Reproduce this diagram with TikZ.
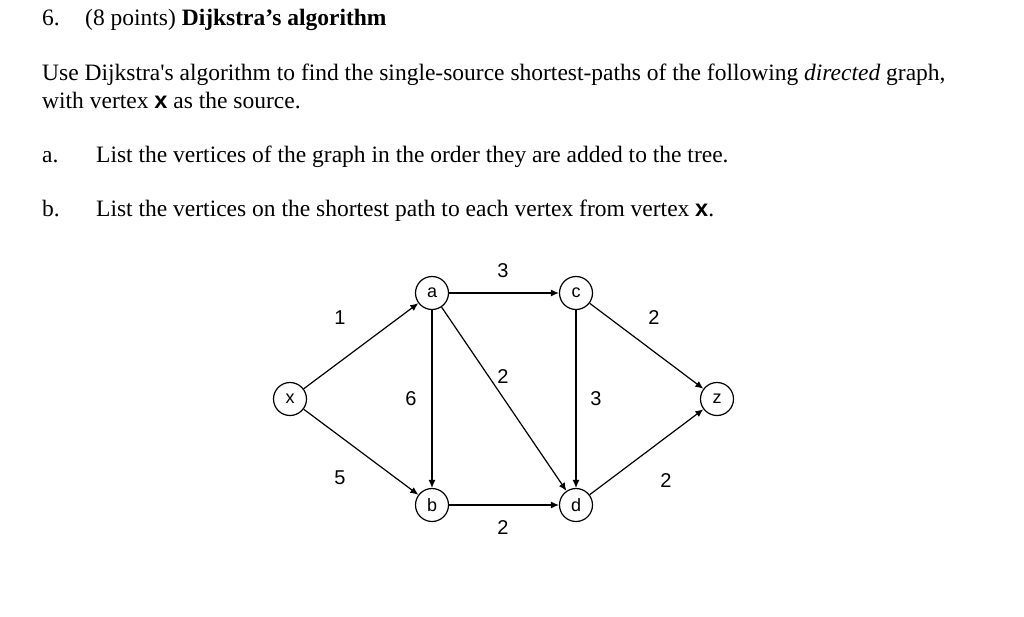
\documentclass[tikz,border=0pt]{standalone}
\usepackage{fontspec}
\usetikzlibrary{arrows.meta}
\setmainfont{Liberation Serif}
\newfontfamily\arial{Liberation Sans}
\begin{document}
\begin{tikzpicture}[x=1pt,y=-1pt,
  vert/.style={draw,circle,minimum size=33pt,inner sep=0pt,line width=1.2pt,font=\arial\fontsize{18}{18}\selectfont},
  edge/.style={-{Latex[length=8pt,width=7pt]},line width=1.2pt},
  wt/.style={font=\arial\fontsize{20}{20}\selectfont},
  txt/.style={anchor=base west,inner sep=0pt,font=\fontsize{23.5}{28}\selectfont}]
\useasboundingbox (0,0) rectangle (1024,616);
\node[txt] (n6) at (42,25) {6.};
\node[txt] (ttl) at (85,25) {(8 points) \textbf{Dijkstra’s algorithm}};
\node[txt] (p1) at (42,80) {Use Dijkstra\textquotesingle s algorithm to find the single-source shortest-paths of the following \textit{directed} graph,};
\node[txt] (p2) at (42,108) {with vertex {\arial\bfseries x} as the source.};
\node[txt] (la) at (42,162) {a.};
\node[txt] (ta) at (96,162) {List the vertices of the graph in the order they are added to the tree.};
\node[txt] (lb) at (42,216) {b.};
\node[txt] (tb) at (96,216) {List the vertices on the shortest path to each vertex from vertex {\arial\bfseries x}.};
\node[vert] (x) at (290,399) {x};
\node[vert] (a) at (432,293) {a};
\node[vert] (b) at (432,505) {b};
\node[vert] (c) at (576,293) {c};
\node[vert] (d) at (576,505) {d};
\node[vert] (z) at (717,399) {z};
\draw[edge] (x) -- (a);
\draw[edge] (x) -- (b);
\draw[edge] (a) -- (b);
\draw[edge] (a) -- (c);
\draw[edge] (a) -- (d);
\draw[edge] (b) -- (d);
\draw[edge] (c) -- (d);
\draw[edge] (c) -- (z);
\draw[edge] (d) -- (z);
\node[wt] (w1) at (340,318) {1};
\node[wt] (w2) at (340,478) {5};
\node[wt] (w3) at (411,399) {6};
\node[wt] (w4) at (503,271) {3};
\node[wt] (w5) at (503,377) {2};
\node[wt] (w6) at (596,399) {3};
\node[wt] (w7) at (654,318) {2};
\node[wt] (w8) at (666,481) {2};
\node[wt] (w9) at (503,528) {2};
\end{tikzpicture}
\end{document}
